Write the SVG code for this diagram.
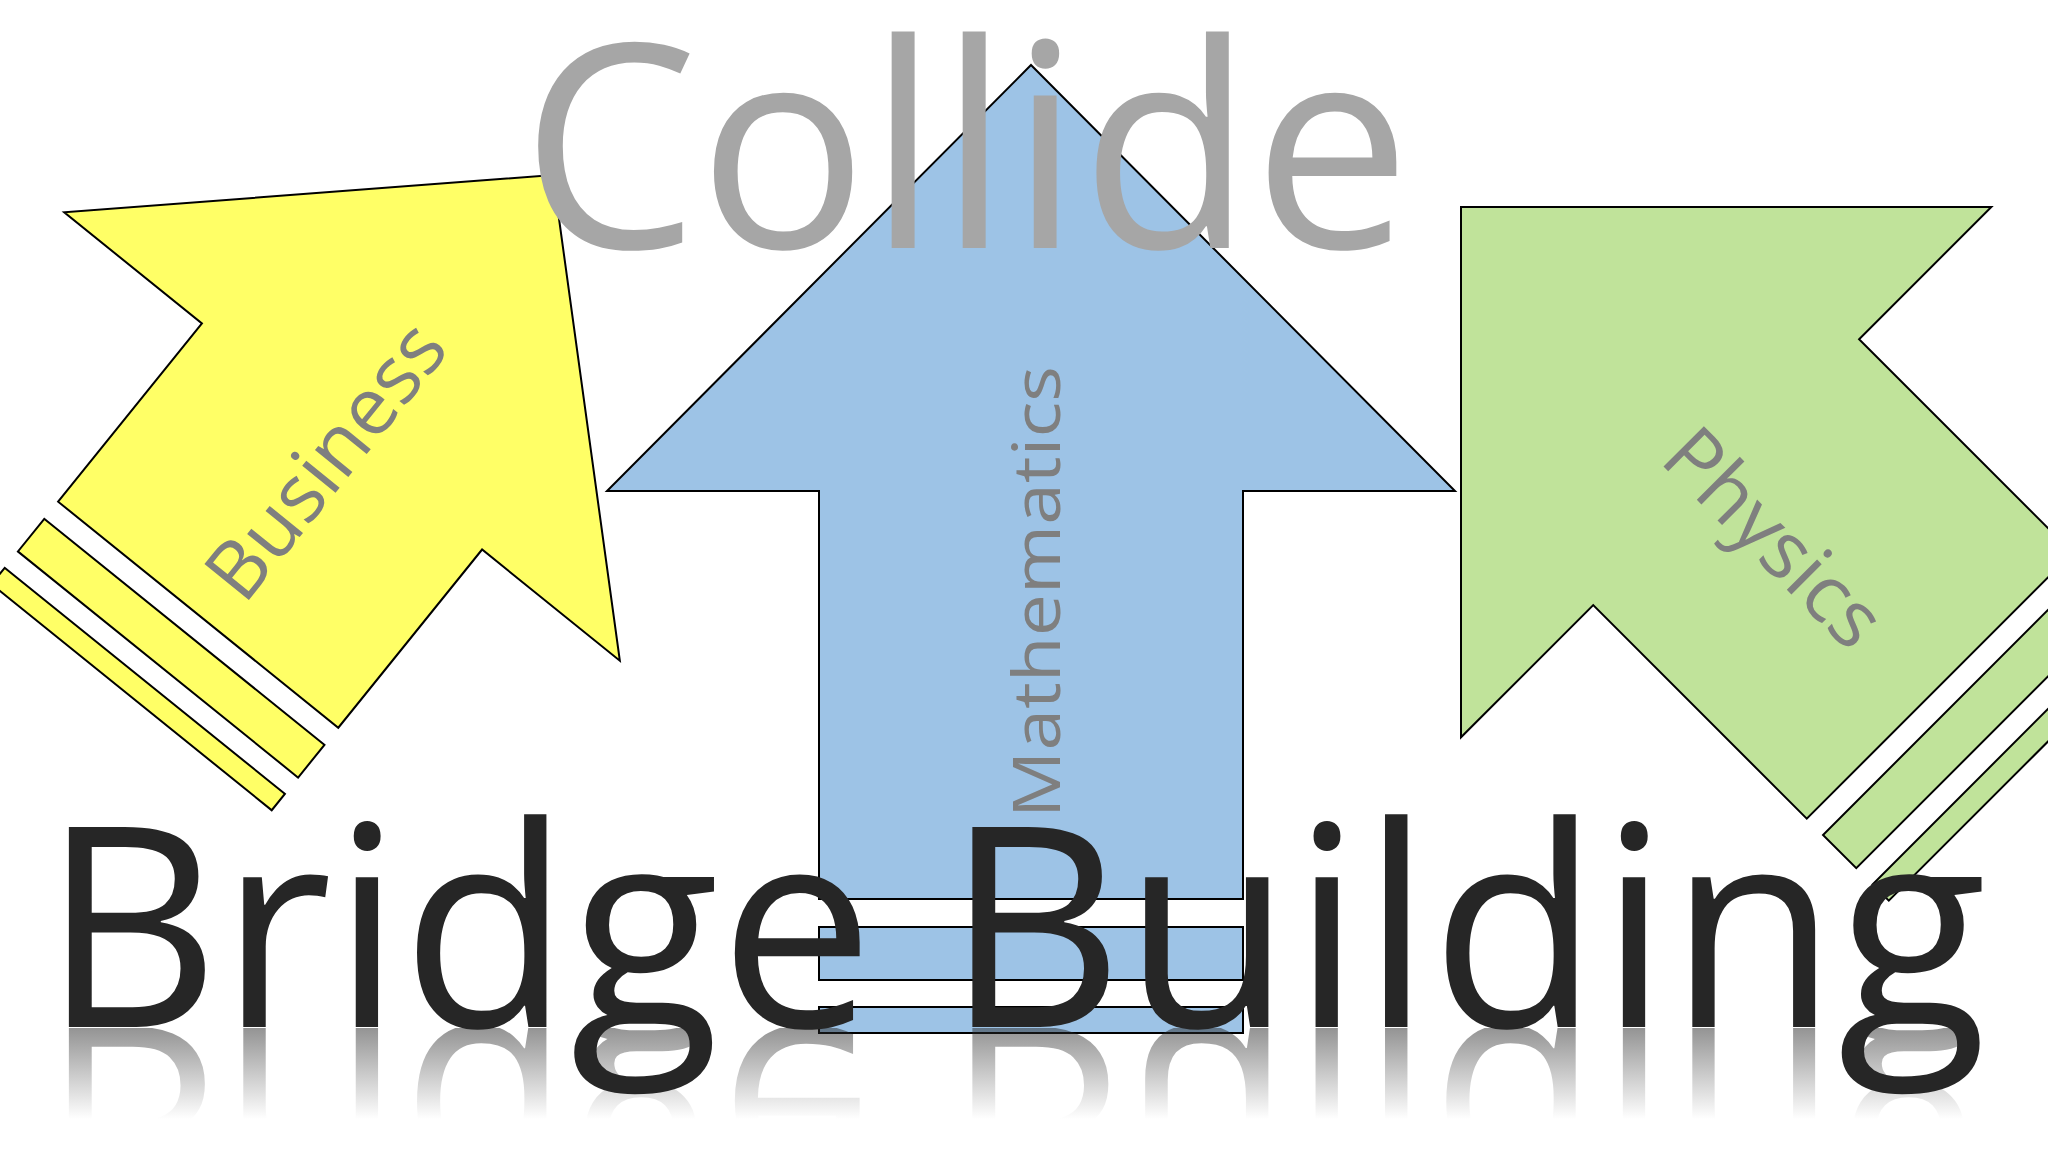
<svg xmlns="http://www.w3.org/2000/svg" width="2048" height="1152" viewBox="0 0 2048 1152">
  <style>
    .shape { stroke: #000; stroke-width: 2; stroke-linejoin: miter; }
    .yellow { fill: #FFFF66; }
    .blue { fill: #9DC3E6; }
    .green { fill: #C0E39A; }
    .label { font-family: "Open Sans", "Liberation Sans", sans-serif; fill: #7F7F7F; }
    .title { font-family: "Open Sans", "Liberation Sans", sans-serif; }
  </style>
  <defs>
    <linearGradient id="refl" gradientUnits="userSpaceOnUse" x1="0" y1="1027" x2="0" y2="935">
      <stop offset="0" stop-color="#262626" stop-opacity="0.5"/>
      <stop offset="1" stop-color="#262626" stop-opacity="0"/>
    </linearGradient>
    <clipPath id="belowBaseline">
      <rect x="0" y="1028" width="2048" height="124"/>
    </clipPath>
  </defs>
  <rect x="0" y="0" width="2048" height="1152" fill="#FFFFFF"/>

  <g id="arrow-business">
    <g transform="translate(553,175) rotate(38.9)">
      <polygon class="shape yellow" points="0,0 357,336 180,336 180,565 -180,565 -180,336 -357,336"/>
      <rect class="shape yellow" x="-180" y="587" width="360" height="42"/>
      <rect class="shape yellow" x="-180" y="650" width="360" height="21"/>
    </g>
    <text class="label" font-size="80" transform="translate(244,606) rotate(-51.1)">Business</text>
  </g>

  <g id="arrow-mathematics">
    <g transform="translate(1031,65)">
      <polygon class="shape blue" points="0,0 424,426 212,426 212,834 -212,834 -212,426 -424,426"/>
      <rect class="shape blue" x="-212" y="862" width="424" height="53"/>
      <rect class="shape blue" x="-212" y="942" width="424" height="26"/>
    </g>
    <text class="label" font-size="66" textLength="452" lengthAdjust="spacingAndGlyphs" transform="translate(1060,818) rotate(-90)">Mathematics</text>
  </g>

  <g id="arrow-physics">
    <g transform="translate(1461,207) rotate(-45)">
      <polygon class="shape green" points="0,0 375,375 188,375 188,677 -188,677 -188,375 -375,375"/>
      <rect class="shape green" x="-188" y="700" width="376" height="47"/>
      <rect class="shape green" x="-188" y="770" width="376" height="23"/>
    </g>
    <text class="label" font-size="80" transform="translate(1658,461) rotate(45)">Physics</text>
  </g>

  <g id="title-collide">
    <text class="title" x="521" y="248" font-size="285" fill="#A6A6A6" textLength="890" lengthAdjust="spacingAndGlyphs">Collide</text>
  </g>

  <g id="title-bridge-building">
    <g clip-path="url(#belowBaseline)">
      <g transform="translate(0,2054) scale(1,-1)">
        <text class="title" x="42" y="1027" font-size="280" fill="url(#refl)" textLength="1945" lengthAdjust="spacingAndGlyphs">Bridge Building</text>
      </g>
    </g>
    <text class="title" x="42" y="1027" font-size="280" fill="#262626" textLength="1945" lengthAdjust="spacingAndGlyphs">Bridge Building</text>
  </g>
</svg>
